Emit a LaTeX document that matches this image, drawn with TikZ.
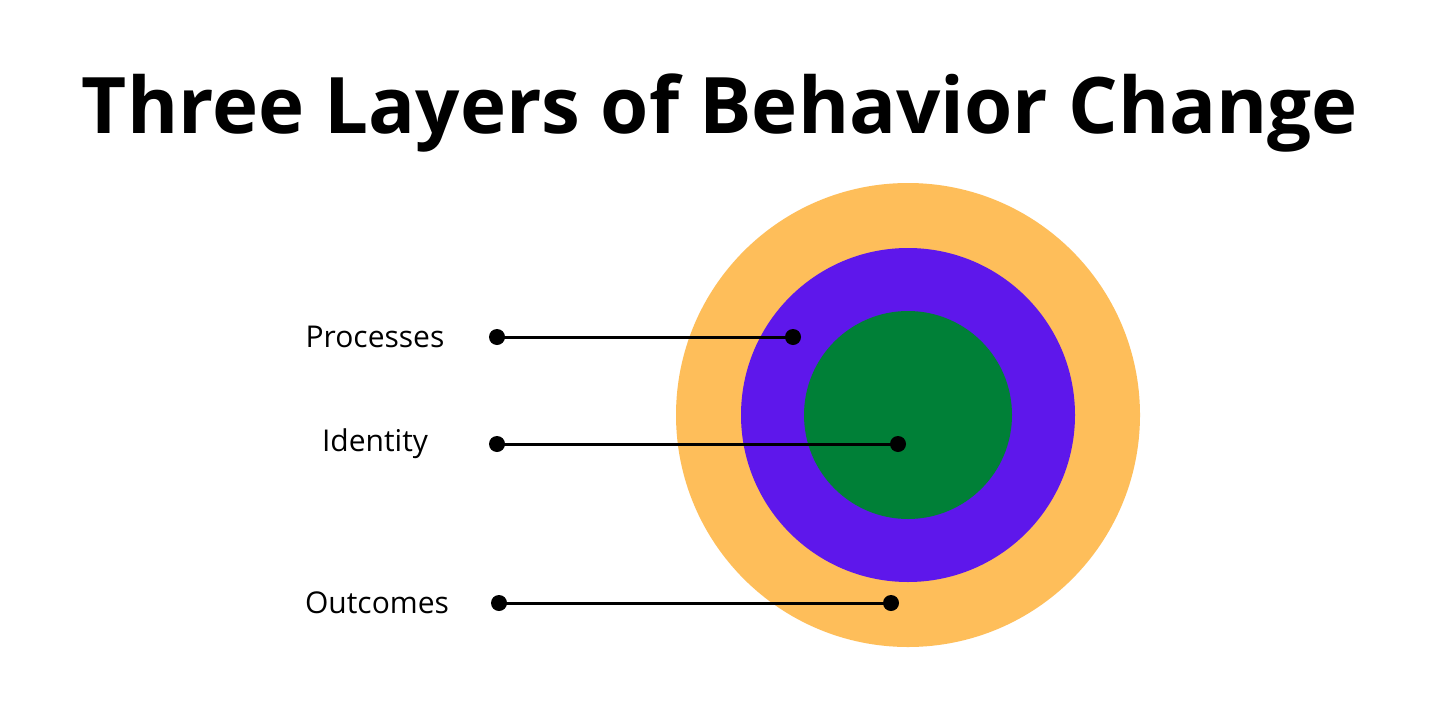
\documentclass[tikz,border=0pt]{standalone}
\usepackage{fontspec}
\setmainfont{Open Sans}
\definecolor{orng}{HTML}{FEBE5A}
\definecolor{purp}{HTML}{5E17EB}
\definecolor{grn}{HTML}{008037}
\begin{document}
\begin{tikzpicture}[x=1pt,y=-1pt,
  lbl/.style={font=\fontsize{30}{36}\selectfont,anchor=center},
  dotc/.style={circle,fill=black,inner sep=0pt,minimum size=16pt},
  conn/.style={line width=3pt}]
\useasboundingbox (0,0) rectangle (1440,720);
\fill[white] (0,0) rectangle (1440,720);
\node[font=\fontsize{78}{90}\bfseries\selectfont] (title) at (720,113) {Three Layers of Behavior Change};
\fill[orng] (908,415) circle (232);
\fill[purp] (908,415) circle (167);
\fill[grn] (908,415) circle (104);
\node[lbl] (p) at (375,337) {Processes};
\node[lbl] (i) at (375,444) {Identity};
\node[lbl] (o) at (377,603) {Outcomes};
\node[dotc] (p1) at (497,337) {}; \node[dotc] (p2) at (793,337) {};
\node[dotc] (i1) at (497,444) {}; \node[dotc] (i2) at (898,444) {};
\node[dotc] (o1) at (499,603) {}; \node[dotc] (o2) at (891,603) {};
\draw[conn] (p1.center) -- (p2.center);
\draw[conn] (i1.center) -- (i2.center);
\draw[conn] (o1.center) -- (o2.center);
\end{tikzpicture}
\end{document}
